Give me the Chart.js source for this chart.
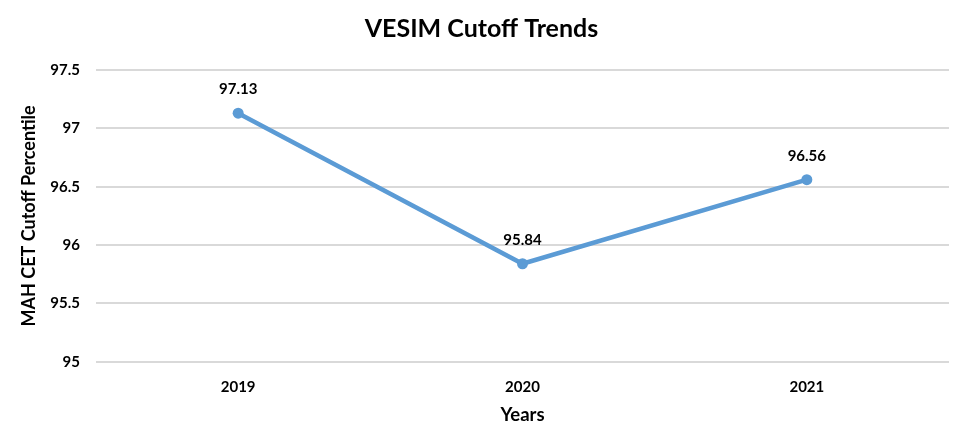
<!DOCTYPE html>
<html><head><meta charset="utf-8">
<script src="https://cdn.jsdelivr.net/npm/chart.js@4"></script>
<style>html,body{margin:0;padding:0;background:#fff;}canvas{display:block;}</style>
</head><body>
<canvas id="c" width="963" height="444"></canvas>
<script>
const categories = ["2019", "2020", "2021"];
const cutoffValues = [97.13, 95.84, 96.56];
const yTickValues = [95, 95.5, 96, 96.5, 97, 97.5];
const yTickLabels = ["95", "95.5", "96", "96.5", "97", "97.5"];
const chartTitle = "VESIM Cutoff Trends";
const xTitle = "Years";
const yTitle = "MAH CET Cutoff Percentile";

const FONT = "Lato, 'Open Sans', sans-serif";
const labelPlugin = {
  id: 'labels',
  afterDatasetsDraw(chart) {
    const ctx = chart.ctx;
    const meta = chart.getDatasetMeta(0);
    ctx.save();
    ctx.font = "bold 15px " + FONT;
    ctx.fillStyle = "#000";
    ctx.textAlign = "center";
    ctx.textBaseline = "middle";
    meta.data.forEach((pt, i) => {
      ctx.fillText(cutoffValues[i].toFixed(2), pt.x, pt.y - 24);
    });
    ctx.restore();
  }
};

new Chart(document.getElementById('c'), {
  type: 'line',
  data: {
    labels: categories,
    datasets: [{
      data: cutoffValues,
      borderColor: '#5B9BD5',
      backgroundColor: '#5B9BD5',
      borderWidth: 4.5,
      pointRadius: 5.5,
      pointBackgroundColor: '#5B9BD5',
      pointBorderWidth: 0,
      tension: 0
    }]
  },
  options: {
    responsive: false,
    animation: false,
    devicePixelRatio: 1,
    layout: { padding: { left: 14, right: 14, top: 10, bottom: 14 } },
    plugins: {
      legend: { display: false },
      tooltip: { enabled: false },
      title: {
        display: true, text: chartTitle, color: '#000',
        font: { family: FONT, size: 25, weight: 'bold' },
        padding: { top: 4, bottom: 26 }
      }
    },
    scales: {
      x: {
        offset: true,
        grid: { display: false },
        border: { display: false },
        ticks: { color: '#000', font: { family: FONT, size: 15, weight: 'bold' }, padding: 8 },
        title: { display: true, text: xTitle, color: '#000', font: { family: FONT, size: 18.5, weight: 'bold' }, padding: { top: 0 } }
      },
      y: {
        min: 95, max: 97.5,
        afterBuildTicks(axis) { axis.ticks = yTickValues.map(v => ({ value: v })); },
        afterFit(axis) { axis.width = 82; },
        grid: { color: '#d9d9d9', lineWidth: 2, drawTicks: false },
        border: { display: false },
        ticks: {
          color: '#000', font: { family: FONT, size: 15, weight: 'bold' }, padding: 16,
          callback: (v, i) => yTickLabels[i]
        },
        title: { display: true, text: yTitle, color: '#000', font: { family: FONT, size: 18, weight: 'bold' }, padding: { bottom: 4 } }
      }
    }
  },
  plugins: [labelPlugin]
});
</script>
</body></html>
